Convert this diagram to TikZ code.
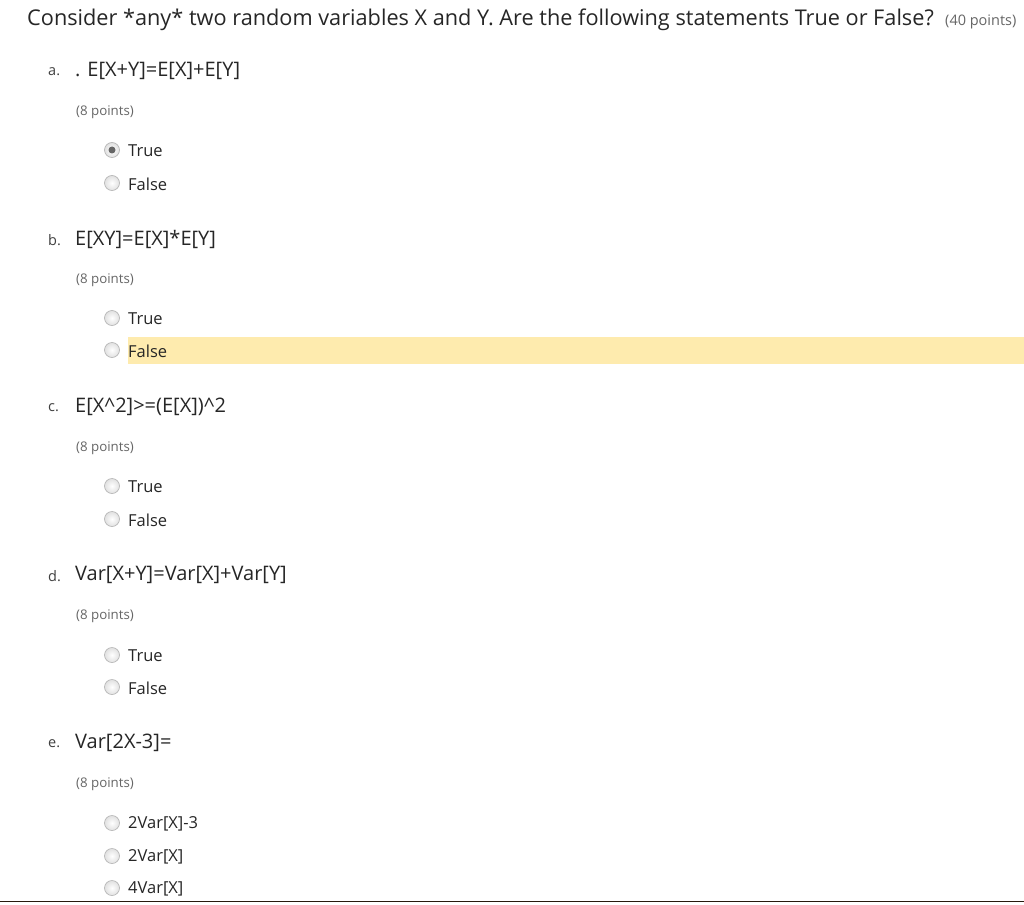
\documentclass[tikz,border=0pt]{standalone}
\usepackage{fontspec}
\setmainfont{Open Sans}
\begin{document}
\begin{tikzpicture}[x=1pt,y=-1pt,
  title/.style={anchor=west,inner sep=0pt,font=\fontsize{21.7}{24}\selectfont,text=black!85},
  pts/.style={anchor=west,inner sep=0pt,font=\fontsize{13.3}{15}\selectfont,text=black!60},
  letter/.style={anchor=west,inner sep=0pt,font=\fontsize{14.5}{16}\selectfont,text=black!75},
  qtext/.style={anchor=west,inner sep=0pt,font=\fontsize{20}{22}\selectfont,text=black!85},
  opt/.style={anchor=west,inner sep=0pt,font=\fontsize{16.5}{18}\selectfont,text=black!85},
  radio/.style={circle,draw=black!30,line width=0.6pt,inner color=white,outer color=black!12,minimum size=15pt,inner sep=0pt}]
\useasboundingbox (0,0) rectangle (1024,904);
\fill[white] (0,0) rectangle (1024,904);
\fill[yellow!55!orange!30] (128,337) rectangle (1024,364);
\draw[black!80!brown,line width=1.2pt] (0,901.5) -- (1024,901.5);
\node[title] (t) at (27,20) {Consider *any* two random variables X and Y. Are the following statements True or False?};
\node[pts,font=\fontsize{14.5}{16}\selectfont] (tp) at (945,22) {(40 points)};
\foreach \l/\q/\y [count=\i] in {a./{. E[X+Y]=E[X]+E[Y]}/71, b./{E[XY]=E[X]*E[Y]}/239, c./{E[X\char`^2]>=(E[X])\char`^2}/407, d./{Var[X+Y]=Var[X]+Var[Y]}/575, e./{Var[2X-3]=}/743}{
  \node[letter] (l\i) at (48,\y+1) {\l};
  \node[qtext] (q\i) at (75,\y) {\q};
  \node[pts] (p\i) at (76,\y+41) {(8 points)};
}
\foreach \n/\y/\t in {r1/150/True, r2/183/False, r3/318/True, r4/350/False, r5/486/True, r6/519/False, r7/655/True, r8/687/False, r9/823/2Var[X]-3, r10/856/2Var[X], r11/888/4Var[X]}{
  \node[radio] (\n) at (112,\y) {};
  \node[opt] (\n t) at (128,\y+1) {\t};
}
\fill[black!60] (r1) circle (3.5pt);
\end{tikzpicture}
\end{document}
